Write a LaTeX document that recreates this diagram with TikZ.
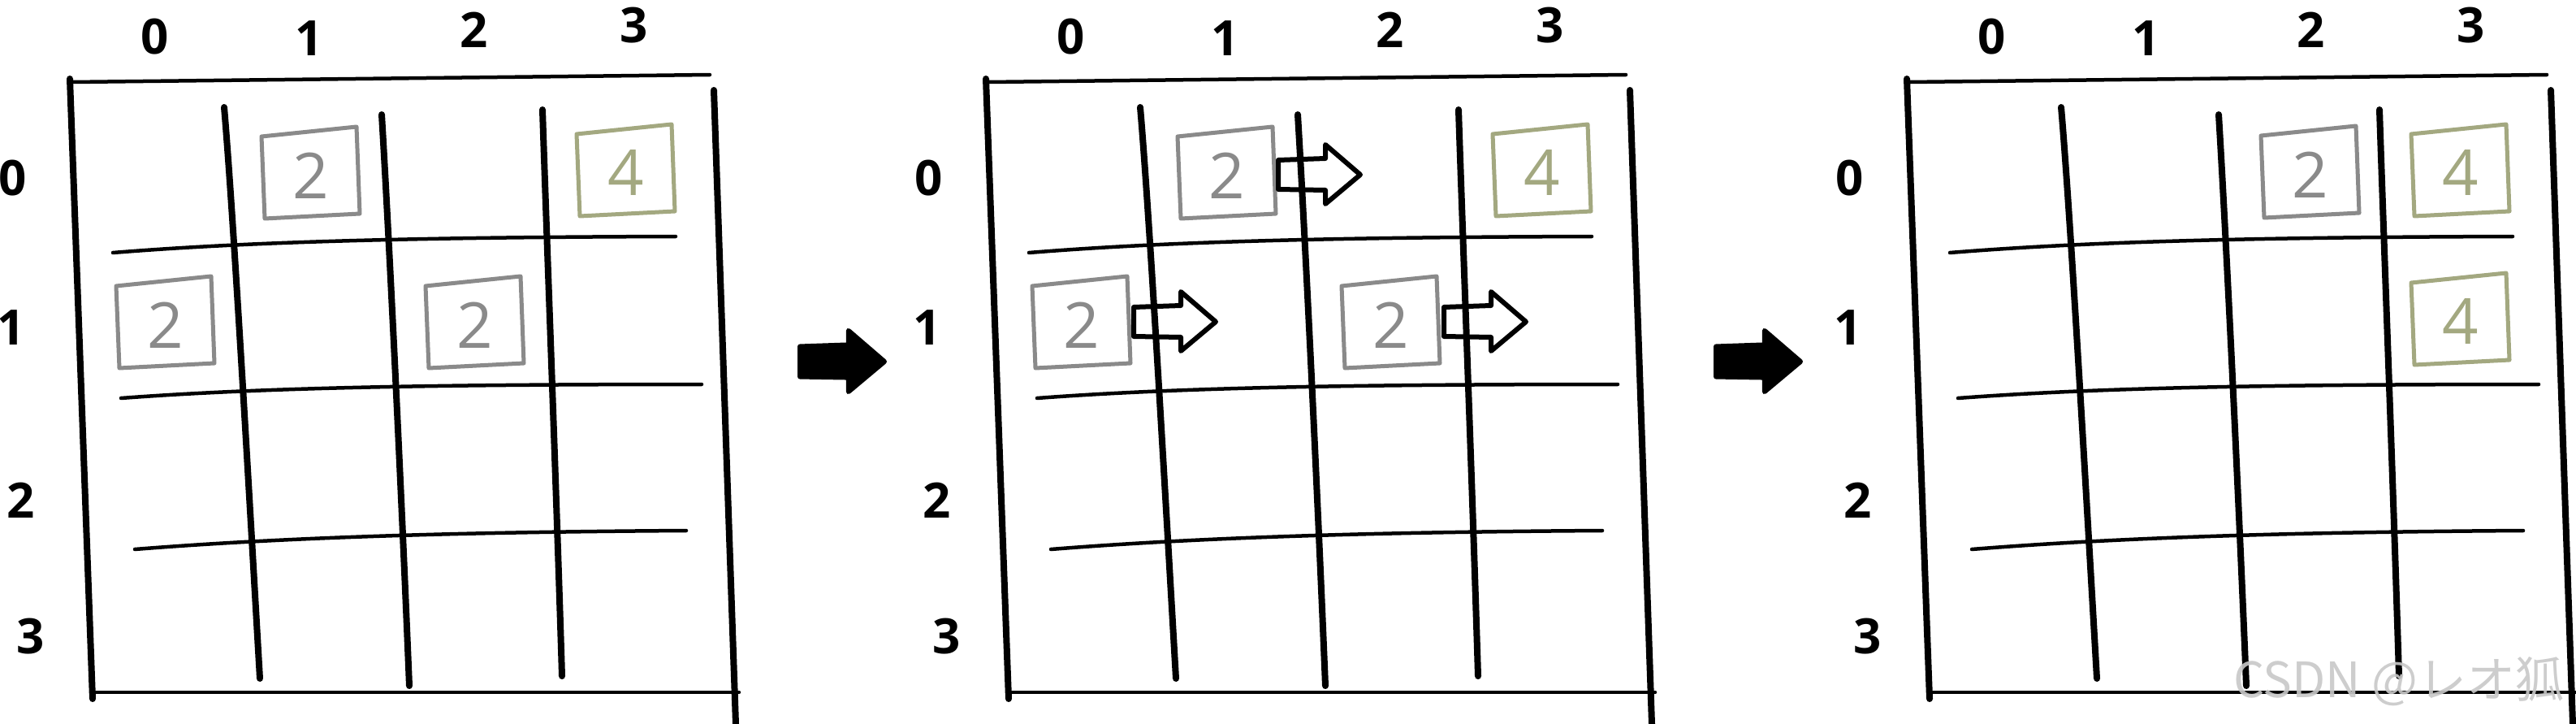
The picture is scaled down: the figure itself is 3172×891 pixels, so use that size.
\documentclass[tikz,border=0pt]{standalone}
\usepackage{fontspec}
\setmainfont{Open Sans}
\newfontfamily\cjkfont{Noto Sans CJK JP}
\definecolor{tilegray}{RGB}{138,138,138}
\definecolor{tileolive}{RGB}{163,168,128}
\definecolor{wmgray}{RGB}{200,200,200}
\newcommand{\tilefont}{\fontsize{78}{78}\selectfont}
\newcommand{\labfont}{\fontsize{60}{60}\selectfont\bfseries}
\tikzset{
  vline/.style={line width=8pt, line cap=round, black},
  hline/.style={line width=4.5pt, line cap=round, black},
  lab/.style={font=\labfont, inner sep=0pt, text=black},
  pics/tile/.style 2 args={code={
    \draw[line width=5pt, draw=#1, line join=round] (0,0) -- (117,-12) -- (121,95) -- (4,101) -- cycle;
    \node[text=#1, font=\tilefont, inner sep=0pt] (-d) at (61,48) {#2};
  }},
  pics/fatarrow/.style={code={
    \path[pic actions] (0,-18) -- (58,-20) -- (58,-37) -- (101,0) -- (58,36) -- (58,19) -- (0,18) -- cycle;
  }},
}
\newcommand{\boardgrid}{%
  \draw[hline] (89,101) -- (874,92);
  \draw[vline] (86,97) -- (114,860);
  \draw[vline] (879,111) -- (906,891);
  \draw[hline] (118,852) -- (910,852);
  \draw[vline] (276,132) .. controls (287,260) and (304,560) .. (320,835);
  \draw[vline] (470,141) .. controls (479,290) and (494,600) .. (504,844);
  \draw[vline] (668,135) .. controls (673,290) and (685,600) .. (692,832);
  \draw[hline] (139,311) .. controls (300,298) and (500,292) .. (832,291);
  \draw[hline] (149,490) .. controls (310,478) and (510,473) .. (864,473);
  \draw[hline] (166,676) .. controls (330,663) and (530,655) .. (845,653);
  \node[lab] (c0) at (191,45) {0};
  \node[lab] (c1) at (381,47) {1};
  \node[lab] (c2) at (584,37) {2};
  \node[lab] (c3) at (781,31) {3};
  \node[lab] (r0) at (16,219) {0};
  \node[lab] (r1) at (14,403) {1};
  \node[lab] (r2) at (26,616) {2};
  \node[lab] (r3) at (38,783) {3};
}
\begin{document}
\begin{tikzpicture}[x=1pt,y=-1pt]
\useasboundingbox (0,0) rectangle (3172,891);
\fill[white] (0,0) rectangle (3172,891);
% panel 1
\begin{scope}[name prefix=p1-]
  \boardgrid
  \pic (ta) at (322,168) {tile={tilegray}{2}};
  \pic (tb) at (710,165) {tile={tileolive}{4}};
  \pic (tc) at (143,352) {tile={tilegray}{2}};
  \pic (td) at (524,352) {tile={tilegray}{2}};
\end{scope}
% transition arrows
\pic[draw=black, fill=black, line width=6pt, line join=round, scale=1.03] (m1) at (985,445) {fatarrow};
\pic[draw=black, fill=black, line width=6pt, line join=round, scale=1.03] (m2) at (2113,445) {fatarrow};
% panel 2
\begin{scope}[xshift=1128pt, name prefix=p2-]
  \boardgrid
  \pic (ta) at (322,168) {tile={tilegray}{2}};
  \pic (tb) at (710,165) {tile={tileolive}{4}};
  \pic (tc) at (143,352) {tile={tilegray}{2}};
  \pic (td) at (524,352) {tile={tilegray}{2}};
  \pic[draw=black, line width=6pt, line join=round] (aa) at (446,215) {fatarrow};
  \pic[draw=black, line width=6pt, line join=round] (ab) at (268,396) {fatarrow};
  \pic[draw=black, line width=6pt, line join=round] (ac) at (650,396) {fatarrow};
\end{scope}
% panel 3
\begin{scope}[xshift=2262pt, name prefix=p3-]
  \boardgrid
  \pic (ta) at (522,167) {tile={tilegray}{2}};
  \pic (tb) at (707,165) {tile={tileolive}{4}};
  \pic (tc) at (707,348) {tile={tileolive}{4}};
\end{scope}
% watermark
\node[anchor=base west, inner sep=0pt, text=wmgray, text opacity=0.9, font=\cjkfont\fontsize{60}{60}\selectfont] (wm) at (2750,858) {CSDN @レオ狐};
\end{tikzpicture}
\end{document}
